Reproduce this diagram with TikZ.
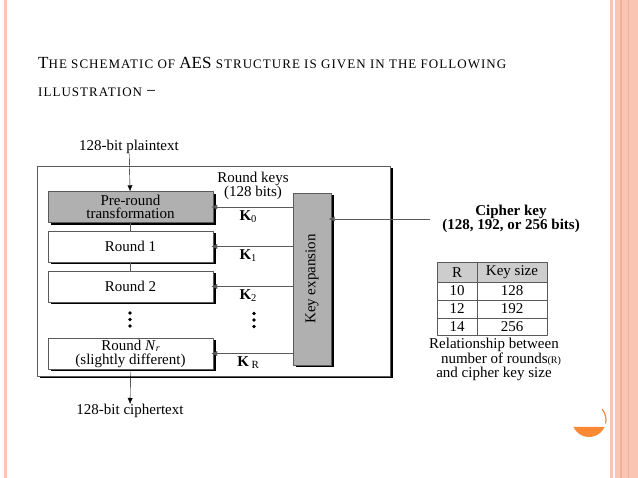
\documentclass[tikz,border=0pt]{standalone}
\usepackage{fontspec}
\setmainfont{Liberation Serif}
\usetikzlibrary{arrows.meta,shadows}
\begin{document}
\begin{tikzpicture}[x=1pt,y=-1pt,line join=round,>={Latex[length=6pt,width=5pt]}]
	\definecolor{slidepink}{RGB}{249,198,180}
	\definecolor{slidepinkdark}{RGB}{243,176,152}
	\definecolor{slideorange}{RGB}{250,136,52}
	\definecolor{boxgray}{RGB}{176,176,176}
	\definecolor{headgray}{RGB}{205,205,205}
	\definecolor{linegray}{RGB}{90,90,90}
	\useasboundingbox (0,0) rectangle (638,478);
	
	% slide border and ornament
	\fill[slidepink] (4,0) rectangle (6.5,478);
	\fill[slidepink] (610,0) rectangle (612.5,478);
	\fill[slidepink] (615,0) rectangle (638,478);
	\fill[slidepinkdark] (620,0) rectangle (622,478);
	\fill[slidepinkdark] (628,0) rectangle (629,478);
	\fill[slideorange] (589,420) ++(24.3:17) arc (24.3:155.7:17) -- cycle;
	\draw[slideorange,line width=1.2pt] (589,420) ++(-40:17) arc (-40:12:17);
	
	% title
	\def\smc#1{{\fontsize{13}{15}\selectfont\addfontfeatures{LetterSpace=8}#1}}
	\node[anchor=base west,inner sep=0,font=\fontsize{17}{20}\selectfont] (title1) at (38,69)
	{T\smc{HE SCHEMATIC OF} AES \smc{STRUCTURE IS GIVEN IN THE FOLLOWING}};
	\node[anchor=base west,inner sep=0,font=\fontsize{17}{20}\selectfont] (title2) at (38,97)
	{\smc{ILLUSTRATION} −};
	
	\tikzset{
		txt/.style={font=\fontsize{15}{13.5}\selectfont,align=center,inner sep=0},
		blackshadow/.style={drop shadow={shadow xshift=2.5pt,shadow yshift=-2.5pt,fill=black,opacity=1}},
		roundbox/.style={txt,draw=linegray,fill=white,minimum width=165pt,minimum height=31pt,blackshadow},
		prebox/.style={roundbox,fill=boxgray,drop shadow={opacity=0}},
		keyarrow/.style={draw=linegray,->,shorten >=-2pt},
		vdots/.pic={\foreach \d in {-6.5,0,6.5} \fill (0,\d) circle (1.9);}
	}
	
	% frame
	\draw[draw=linegray,fill=white,blackshadow] (37,166) rectangle (390,376);
	
	\node[txt] (plain) at (129,147) {128-bit plaintext};
	\node[prebox] (pre) at (130.5,207) {Pre-round\\transformation};
	\node[roundbox] (r1) at (130.5,246.5) {Round 1};
	\node[roundbox,font=\fontsize{15}{14}\selectfont] (rn) at (130.5,353.5)
	{Round \textit{N}\raisebox{-1.5pt}{\fontsize{10}{10}\selectfont\textit{r}}\\(slightly different)};
	\node[roundbox] (r2) at (130.5,286.5) {Round 2};
	\node[txt] (ciph) at (130,411) {128-bit ciphertext};
	\path (130,319.5) pic {vdots};
	
	\draw[->] (plain) -- (pre);
	\draw[linegray] (pre) -- (r1);
	\draw[linegray] (r1) -- (r2);
	\draw[->] ([yshift=-2.5pt]rn.south) -- (ciph);
	
	% key expansion
	\node[txt,draw=linegray,fill=boxgray,minimum width=38pt,minimum height=172pt,blackshadow] (keyexp) at (312,279)
	{\rotatebox{90}{Key expansion}};
	\node[txt] (rkeys) at (253,186) {Round keys\\(128 bits)};
	\foreach \b/\k in {pre/\textsubscript{0},r1/\textsubscript{1},r2/\textsubscript{2},rn/\,\raisebox{-2pt}{\fontsize{11}{11}\selectfont R}}{
		\draw[keyarrow] (keyexp.west |- \b.east) -- (\b.east)
		node[txt,pos=.56,below=3pt] {\textbf{K}\k};
	}
	\path (254,320) pic {vdots};
	
	\coordinate (ckin) at (430,219);
	\node[txt,font=\fontsize{15}{12.5}\selectfont\bfseries] (cipher) at (511,219) {Cipher key\\(128, 192, or 256 bits)};
	\draw[keyarrow,shorten >=-2.5pt] (ckin) -- (ckin -| keyexp.east);
	
	% table of rounds
	\fill[headgray] (437,263) rectangle (547,282);
	\draw[linegray] (437,282) -- (547,282) (437,300) -- (547,300) (437,318) -- (547,318) (477,263) -- (477,336);
	\draw[linegray,line width=1pt] (437,263) rectangle (547,336);
	\foreach \n/\s [count=\i] in {R/Key size,10/128,12/192,14/256}{
		\node[txt] (tabR\i) at (457,254.5+18*\i) {\n};
		\node[txt] (tabK\i) at (512,254.5+18*\i) {\s};
	}
	\node[txt,font=\fontsize{15}{12.5}\selectfont] (caption) at (494,359.5)
	{Relationship between\\\hspace*{14pt}number of rounds{\fontsize{10}{10}\selectfont(R)}\\and cipher key size};
\end{tikzpicture}
\end{document}
